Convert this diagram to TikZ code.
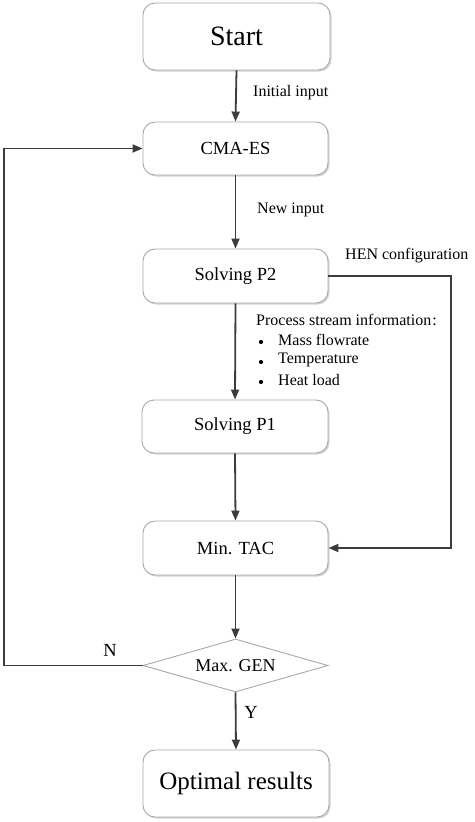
\documentclass[tikz,border=0pt]{standalone}
\usepackage{fontspec}
\setmainfont{Liberation Serif}
\usetikzlibrary{arrows.meta,shapes.geometric,shadows}
\definecolor{linec}{HTML}{3C3C3C}
\definecolor{boxc}{HTML}{A8A8A8}
\newcommand{\fsz}[1]{\fontsize{#1}{#1}\selectfont}
\tikzset{
  box/.style={draw=boxc, line width=0.9pt, fill=white, rounded corners=12pt,
    minimum width=185pt, minimum height=53pt, inner sep=0pt,
    drop shadow={shadow xshift=1.5pt, shadow yshift=-1.5pt, opacity=0.35, fill=gray},
    font=\fsz{18.5}},
  bigbox/.style={box, minimum height=67pt},
  dec/.style={draw=boxc, line width=0.9pt, fill=white, shape=diamond, aspect=3.49,
    minimum width=185pt, minimum height=53pt, inner sep=0pt, font=\fsz{18}},
  conn/.style={draw=linec, line width=1.8pt, -{Triangle[length=10pt,width=8pt]}},
  lbl/.style={anchor=west, inner sep=0pt, font=\fsz{16}},
  bul/.style={circle, fill=black, inner sep=0pt, minimum size=4.2pt},
  yn/.style={inner sep=0pt, font=\fsz{18.5}}
}
\begin{document}
\begin{tikzpicture}[x=1pt,y=-1pt]
\useasboundingbox (0,0) rectangle (474,822);
\node[bigbox, font=\fsz{28}, minimum width=187pt] (start) at (236.5,36.5) {Start};
\node[box] (cma) at (235.5,148.5) {CMA-ES};
\node[box, minimum height=54pt] (p2) at (235.5,276) {Solving P2};
\node[box, minimum width=186pt] (p1) at (235,426.5) {Solving P1};
\node[box, minimum height=54pt] (tac) at (235.5,548) {Min. TAC};
\node[dec] (gen) at (235.5,665.5) {Max. GEN};
\node[bigbox, font=\fsz{25}, minimum width=186pt] (opt) at (236,783.5) {Optimal results};

\coordinate (fbl) at (4,665.5);
\coordinate (fbt) at (4,148.5);
\coordinate (henr) at (451,276);
\coordinate (henb) at (451,548);

\draw[conn] (start.south) -- (cma.north);
\draw[conn] (cma.south) -- (p2.north);
\draw[conn] (p2.south) -- (p1.north);
\draw[conn] (p1.south) -- (tac.north);
\draw[conn] (tac.south) -- (gen.north);
\draw[conn] (gen.south) -- (opt.north);
\draw[conn] (gen.west) -- (fbl) -- (fbt) -- (cma.west);
\draw[conn] (p2.east) -- (henr) -- (henb) -- (tac.east);

\node[lbl] (l1) at (253,93) {Initial input};
\node[lbl] (l2) at (257,210) {New input};
\node[lbl] (l3) at (345,256) {HEN configuration};
\node[lbl] (l4) at (256,320) {Process stream information\kern1pt:};
\node[bul] (b1) at (261,342) {};
\node[bul] (b2) at (261,362) {};
\node[bul] (b3) at (261,382) {};
\node[lbl] (t1) at (278,340) {Mass flowrate};
\node[lbl] (t2) at (278,360) {Temperature};
\node[lbl] (t3) at (278,380) {Heat load};
\node[yn] (n) at (110,650) {N};
\node[yn] (y) at (251,712) {Y};
\end{tikzpicture}
\end{document}
